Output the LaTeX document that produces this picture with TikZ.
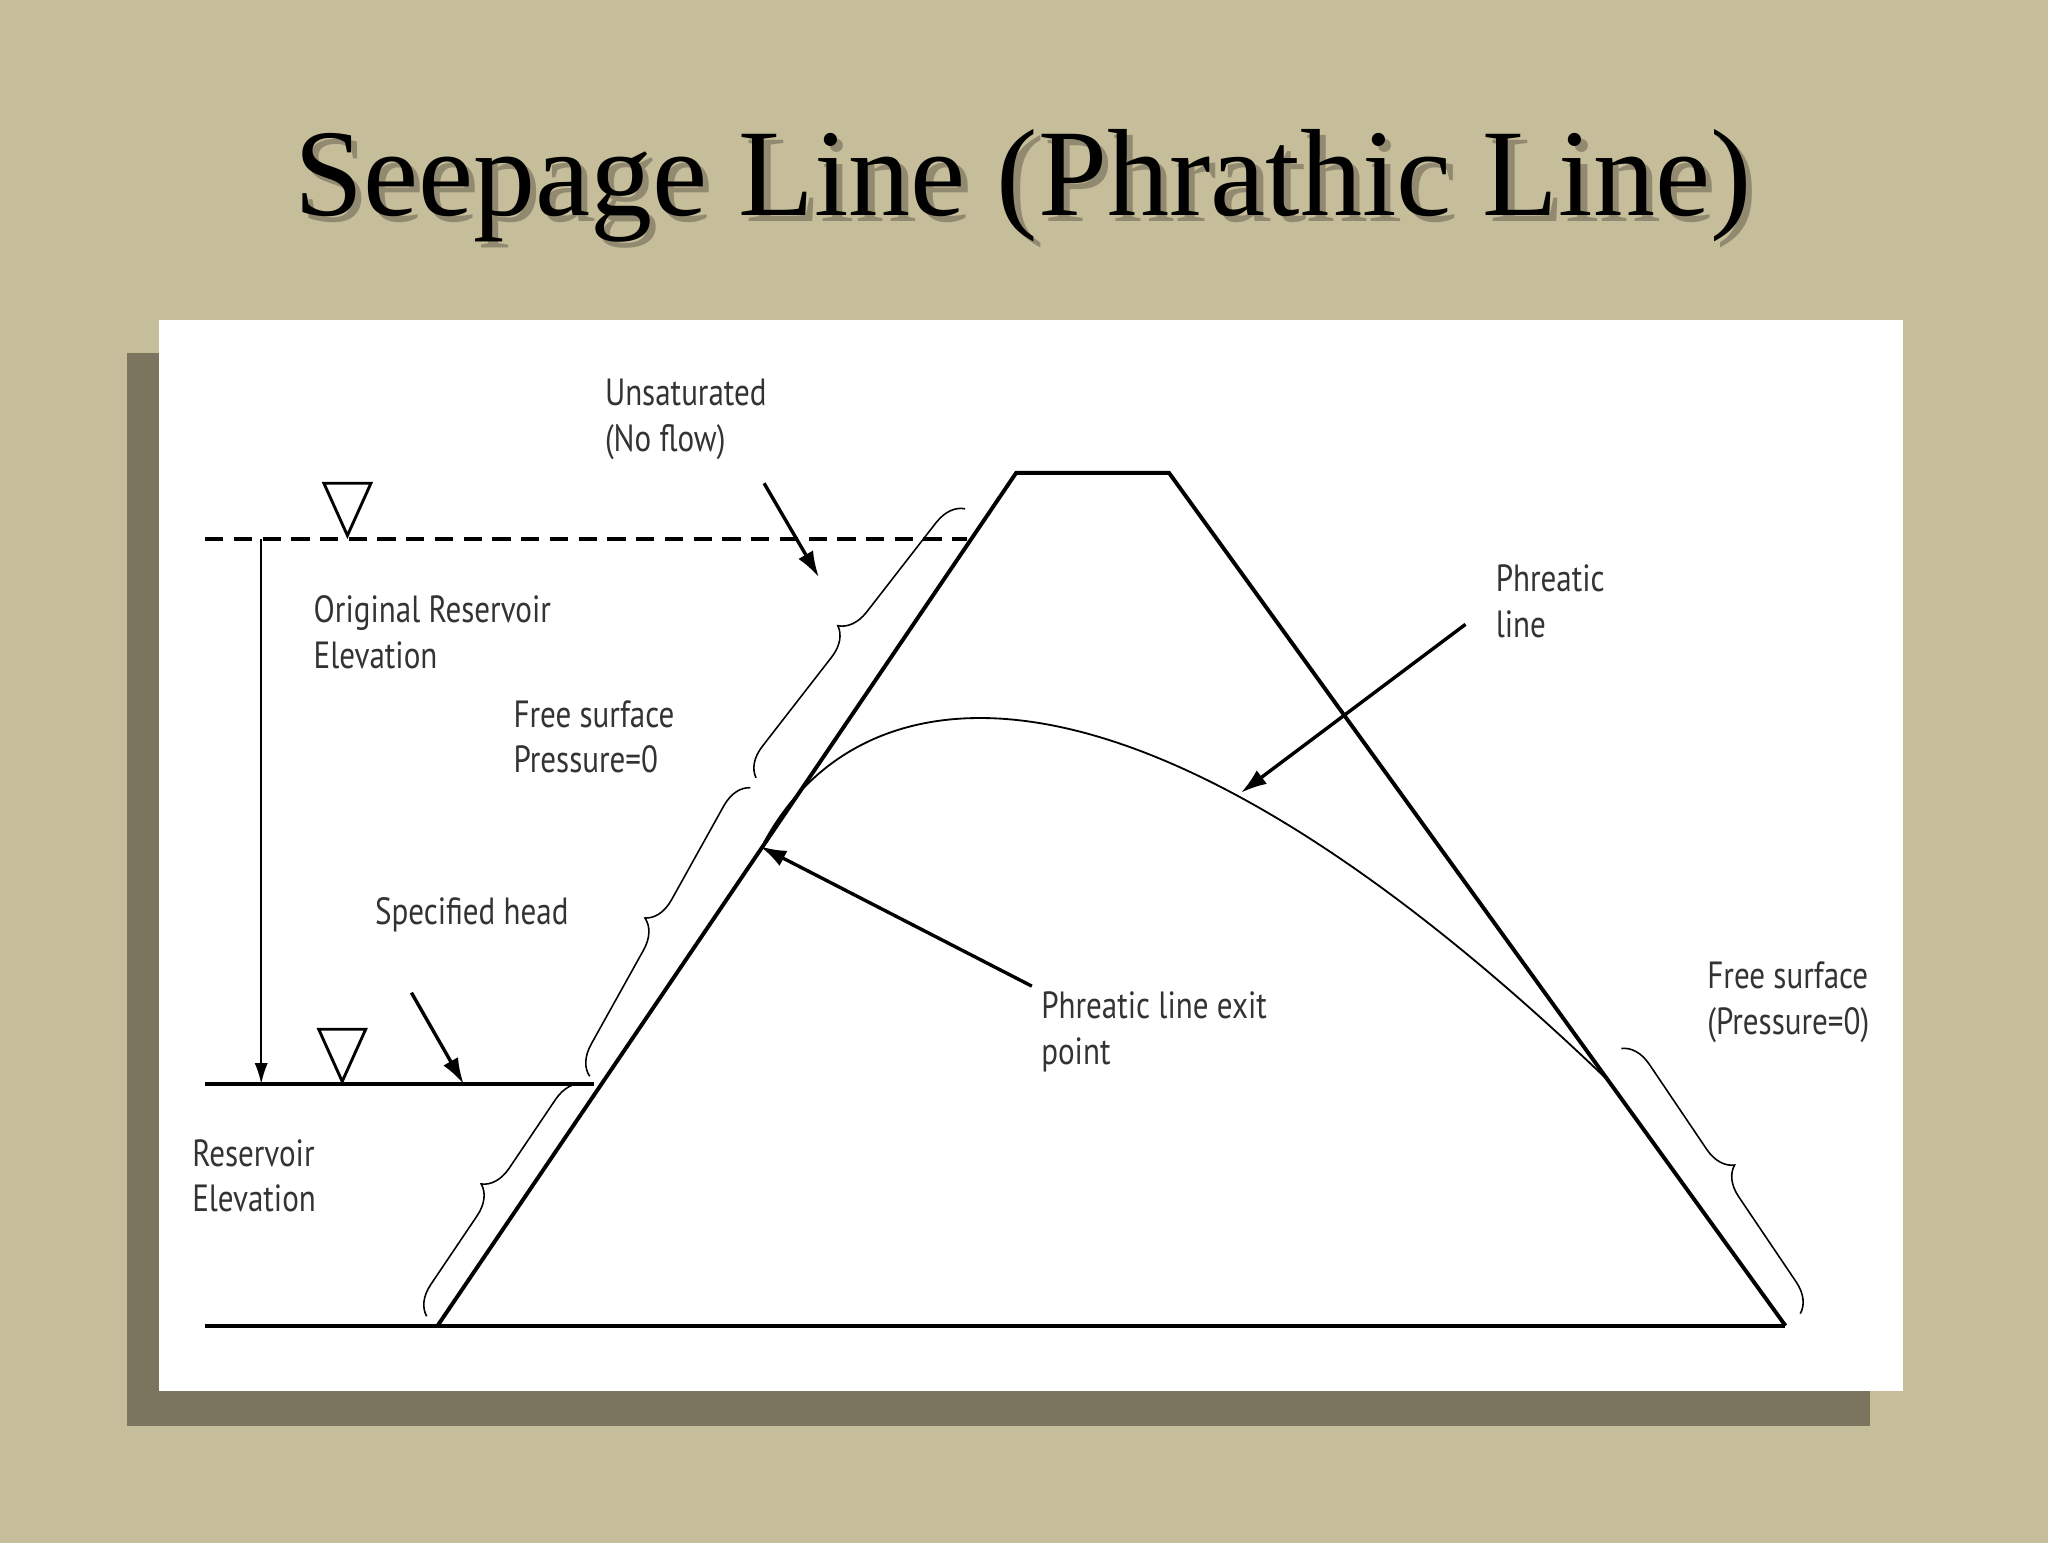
\documentclass[tikz,border=0pt]{standalone}
\usepackage{fontspec}
\setmainfont{PT Sans}
\newfontfamily\titlefont{Liberation Serif}
\usetikzlibrary{decorations.pathreplacing,arrows.meta}
\definecolor{bg}{HTML}{C6BE9A}
\definecolor{shad}{HTML}{7B7560}
\tikzset{
  lab/.style={font=\fontsize{29}{35}\selectfont\addfontfeature{FakeStretch=0.82}, align=left, anchor=north west, inner sep=0pt, text=black!80},
  ln/.style={line width=3pt},
  arr/.style={line width=2.6pt,-{Latex[length=20pt,width=13pt]}},
  br/.style={decorate, decoration={brace,amplitude=22pt,raise=4pt}, line width=1.2pt},
  tri/.style={line width=2.2pt}
}
\begin{document}
\begin{tikzpicture}[x=1pt,y=-1pt]
\useasboundingbox (0,0) rectangle (1568,1181);
\fill[bg] (0,0) rectangle (1568,1181);
\fill[shad] (97,270) rectangle (1432,1092);
\fill[white] (122,245) rectangle (1457,1065);
% title
\node[font=\titlefont\fontsize{95}{100}\selectfont, text=shad, opacity=0.7] at (788,147) {Seepage Line (Phrathic Line)};
\node[font=\titlefont\fontsize{95}{100}\selectfont] (title) at (783,142) {Seepage Line (Phrathic Line)};
% coordinates
\coordinate (gl) at (157,1015);
\coordinate (gr) at (1367,1015);
\coordinate (tl) at (335,1015);
\coordinate (cl) at (778,362);
\coordinate (cr) at (895,362);
\coordinate (tr) at (1367,1015);
\coordinate (rw) at (455,830);
\coordinate (ex) at (585,645);
\coordinate (pe) at (1232,828);
\coordinate (dl) at (157,413);
\coordinate (dr) at (740,413);
% ground and dam
\draw[ln] (gl) -- (gr);
\draw[ln] (tl) -- (cl) -- (cr) -- (tr);
% reservoir lines
\draw[ln,dashed,dash pattern=on 14pt off 8pt] (dl) -- (dr);
\draw[ln] (157,830) -- (rw);
\draw[tri] (248,370) -- (284,370) -- (266,410) -- cycle;
\draw[tri] (244,788) -- (280,788) -- (262,828) -- cycle;
\coordinate (va) at (200,413);
\coordinate (vb) at (200,830);
\draw[line width=1.6pt,-{Latex[length=16pt,width=10pt]}] (va) -- (vb);
% phreatic line
\draw[line width=1.4pt] (ex) .. controls (655,515) and (860,470) .. (pe);
% braces
\draw[br] (330,1010) -- (450,832);
\draw[br] (455,826) -- (578,605);
\draw[br] (582,598) -- (742,392);
\draw[br] (1238,805) -- (1375,1008);
% arrows
\coordinate (a1s) at (585,370); \coordinate (a1e) at (627,442);
\draw[arr] (a1s) -- (a1e);
\coordinate (a2s) at (1122,478); \coordinate (a2e) at (950,607);
\draw[arr] (a2s) -- (a2e);
\coordinate (a3s) at (790,755); \coordinate (a3e) at (582,648);
\draw[arr] (a3s) -- (a3e);
\coordinate (a4s) at (315,760); \coordinate (a4e) at (355,830);
\draw[arr] (a4s) -- (a4e);
% labels
\node[lab] (l1) at (463,290) {Unsaturated\\(No flow)};
\node[lab] (l2) at (240,456) {Original Reservoir\\Elevation};
\node[lab] (l3) at (393,536) {Free surface\\Pressure=0};
\node[lab] (l4) at (287,687) {Specified head};
\node[lab] (l5) at (1145,432) {Phreatic\\line};
\node[lab] (l6) at (797,759) {Phreatic line exit\\point};
\node[lab] (l7) at (1307,736) {Free surface\\(Pressure=0)};
\node[lab] (l8) at (147,872) {Reservoir\\Elevation};
\end{tikzpicture}
\end{document}
